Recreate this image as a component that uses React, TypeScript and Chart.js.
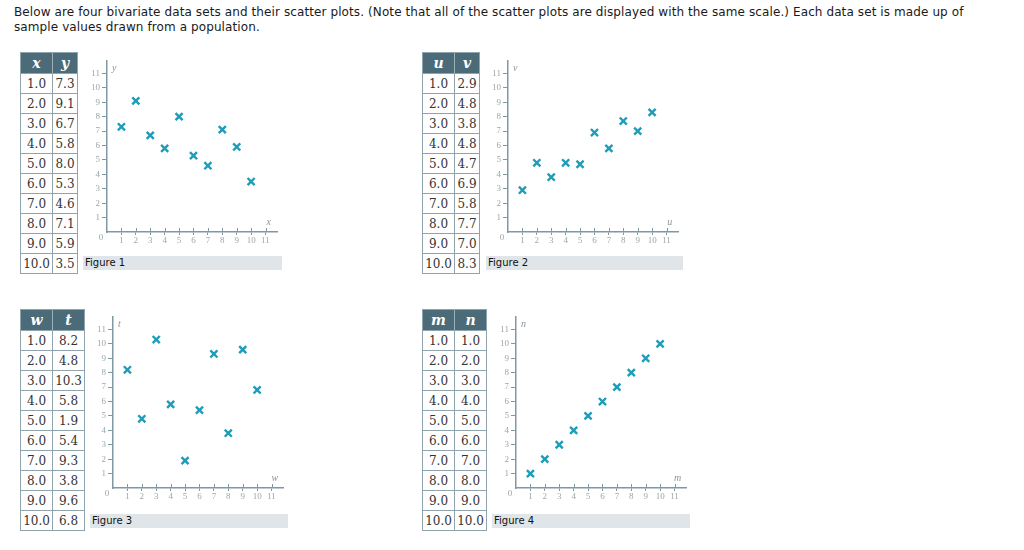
import React, { useEffect, useRef } from "react";
import { Chart, registerables } from "chart.js";

Chart.register(...registerables);

// ---- data ----
const set1X = [1.0, 2.0, 3.0, 4.0, 5.0, 6.0, 7.0, 8.0, 9.0, 10.0];
const set1Y = [7.3, 9.1, 6.7, 5.8, 8.0, 5.3, 4.6, 7.1, 5.9, 3.5];
const set2U = [1.0, 2.0, 3.0, 4.0, 5.0, 6.0, 7.0, 8.0, 9.0, 10.0];
const set2V = [2.9, 4.8, 3.8, 4.8, 4.7, 6.9, 5.8, 7.7, 7.0, 8.3];
const set3W = [1.0, 2.0, 3.0, 4.0, 5.0, 6.0, 7.0, 8.0, 9.0, 10.0];
const set3T = [8.2, 4.8, 10.3, 5.8, 1.9, 5.4, 9.3, 3.8, 9.6, 6.8];
const set4M = [1.0, 2.0, 3.0, 4.0, 5.0, 6.0, 7.0, 8.0, 9.0, 10.0];
const set4N = [1.0, 2.0, 3.0, 4.0, 5.0, 6.0, 7.0, 8.0, 9.0, 10.0];
const tickValues = [1, 2, 3, 4, 5, 6, 7, 8, 9, 10, 11];

// ---- styles ----
const AXIS = "#7f98a1";
const TICK = "#9ca7ab";
const MARK = "#1d9db7";
const TBORDER = "#8fa4ac";
const THEAD = "#4c6b79";
const CW = 206;
const CH = 199;
const XMAX = 174 / 14.7;
const YMAX = 175 / 14.7;

const decor = {
  id: "decor",
  afterDraw(chart: any, _args: any, opts: any) {
    const { ctx } = chart;
    const x = chart.scales.x;
    const y = chart.scales.y;
    const ox = x.getPixelForValue(0);
    const oy = y.getPixelForValue(0);
    ctx.save();
    ctx.strokeStyle = AXIS;
    ctx.lineWidth = 1;
    tickValues.forEach((v) => {
      const px = Math.round(x.getPixelForValue(v)) + 0.5;
      ctx.beginPath();
      ctx.moveTo(px, oy);
      ctx.lineTo(px, oy - 4);
      ctx.stroke();
    });
    ctx.fillStyle = TICK;
    ctx.font = '9px "Liberation Serif"';
    ctx.textAlign = "center";
    ctx.textBaseline = "middle";
    ctx.fillText("0", ox - 6, oy + 6);
    ctx.fillStyle = "#8a979b";
    ctx.font = 'italic 10px "Liberation Serif"';
    ctx.fillText(opts.xName, x.getPixelForValue(11.22), oy - 10);
    ctx.textAlign = "left";
    ctx.fillText(opts.yName, ox + 5, y.getPixelForValue(11.34));
    ctx.restore();
  },
};

function Scatter(props: { left: number; top: number; xs: number[]; ys: number[]; xName: string; yName: string }) {
  const ref = useRef<HTMLCanvasElement>(null);
  useEffect(() => {
    const tickFont = { family: "Liberation Serif", size: 9 };
    const chart = new Chart(ref.current as HTMLCanvasElement, {
      type: "scatter",
      data: {
        datasets: [
          {
            data: props.xs.map((v, i) => ({ x: v, y: props.ys[i] })),
            pointStyle: "crossRot",
            radius: 5,
            hoverRadius: 5,
            borderWidth: 2.4,
            borderColor: MARK,
            backgroundColor: MARK,
          },
        ],
      },
      options: {
        responsive: false,
        animation: false,
        devicePixelRatio: 1,
        events: [],
        layout: { padding: { top: 4, right: 4, left: 0, bottom: 0 } },
        plugins: {
          legend: { display: false },
          tooltip: { enabled: false },
          decor: { xName: props.xName, yName: props.yName },
        } as any,
        scales: {
          x: {
            type: "linear",
            min: 0,
            max: XMAX,
            afterBuildTicks: (s: any) => {
              s.ticks = tickValues.map((v) => ({ value: v }));
            },
            afterFit: (s: any) => {
              s.height = 20;
            },
            grid: { drawOnChartArea: false, color: AXIS, tickLength: 3 },
            border: { color: AXIS, width: 1.5 },
            ticks: { color: TICK, font: tickFont, padding: 0, maxRotation: 0, autoSkip: false },
          },
          y: {
            type: "linear",
            min: 0,
            max: YMAX,
            afterBuildTicks: (s: any) => {
              s.ticks = tickValues.map((v) => ({ value: v }));
            },
            afterFit: (s: any) => {
              s.width = 28;
            },
            grid: { drawOnChartArea: false, color: AXIS, tickLength: 5 },
            border: { color: AXIS, width: 1.5 },
            ticks: { color: TICK, font: tickFont, padding: 2, autoSkip: false },
          },
        },
      },
      plugins: [decor as any],
    });
    return () => chart.destroy();
  }, []);
  return (
    <canvas
      ref={ref}
      width={CW}
      height={CH}
      style={{ position: "absolute", left: props.left, top: props.top, width: CW, height: CH }}
    />
  );
}

function DataTable(props: { left: number; top: number; width: number; w1: number; h1: string; h2: string; a: number[]; b: number[] }) {
  const cell: React.CSSProperties = {
    display: "flex",
    alignItems: "center",
    justifyContent: "center",
    boxSizing: "border-box",
  };
  return (
    <div
      style={{
        position: "absolute",
        left: props.left,
        top: props.top,
        width: props.width,
        boxSizing: "border-box",
        border: `1px solid ${TBORDER}`,
        fontFamily: '"DejaVu Serif", serif',
        fontSize: 12,
        color: "#333",
        background: "#fff",
      }}
    >
      <div style={{ display: "flex", height: 20, background: THEAD, color: "#fff", fontWeight: "bold", fontStyle: "italic", fontSize: 14 }}>
        <div style={{ ...cell, width: props.w1, borderRight: "1px solid #9db1b9" }}>{props.h1}</div>
        <div style={{ ...cell, flex: 1 }}>{props.h2}</div>
      </div>
      {props.a.map((v, i) => (
        <div key={i} style={{ display: "flex", height: 20, boxSizing: "border-box", borderTop: `1px solid ${TBORDER}` }}>
          <div style={{ ...cell, width: props.w1, borderRight: `1px solid ${TBORDER}` }}>{v.toFixed(1)}</div>
          <div style={{ ...cell, flex: 1 }}>{props.b[i].toFixed(1)}</div>
        </div>
      ))}
    </div>
  );
}

function FigLabel(props: { left: number; top: number; width: number; text: string }) {
  return (
    <div
      style={{
        position: "absolute",
        left: props.left,
        top: props.top,
        width: props.width,
        height: 14,
        background: "#dfe5e8",
        fontFamily: '"DejaVu Sans", sans-serif',
        fontSize: 10,
        lineHeight: "14px",
        color: "#111",
        paddingLeft: 2,
        boxSizing: "border-box",
        whiteSpace: "nowrap",
      }}
    >
      {props.text}
    </div>
  );
}

export default function App() {
  return (
    <div style={{ position: "absolute", left: 0, top: 0, width: 1024, height: 550, background: "#fff", overflow: "hidden" }}>
      <div
        style={{
          position: "absolute",
          left: 14,
          top: 5,
          fontFamily: '"DejaVu Sans", sans-serif',
          fontSize: 12,
          letterSpacing: "0.1px",
          lineHeight: "15px",
          color: "#1a1a1a",
          whiteSpace: "nowrap",
        }}
      >
        Below are four bivariate data sets and their scatter plots. (Note that all of the scatter plots are displayed with the same scale.) Each data set is made up of
        <br />
        sample values drawn from a population.
      </div>

      <DataTable left={20} top={52} width={58} w1={32} h1="x" h2="y" a={set1X} b={set1Y} />
      <Scatter left={79} top={53} xs={set1X} ys={set1Y} xName="x" yName="y" />
      <FigLabel left={83} top={256} width={199} text="Figure 1" />

      <DataTable left={422} top={52} width={58} w1={32} h1="u" h2="v" a={set2U} b={set2V} />
      <Scatter left={480} top={53} xs={set2U} ys={set2V} xName="u" yName="v" />
      <FigLabel left={486} top={256} width={197} text="Figure 2" />

      <DataTable left={20} top={309} width={65} w1={32} h1="w" h2="t" a={set3W} b={set3T} />
      <Scatter left={85} top={309} xs={set3W} ys={set3T} xName="w" yName="t" />
      <FigLabel left={90} top={514} width={198} text="Figure 3" />

      <DataTable left={422} top={309} width={65} w1={32} h1="m" h2="n" a={set4M} b={set4N} />
      <Scatter left={488} top={309} xs={set4M} ys={set4N} xName="m" yName="n" />
      <FigLabel left={492} top={514} width={198} text="Figure 4" />
    </div>
  );
}
